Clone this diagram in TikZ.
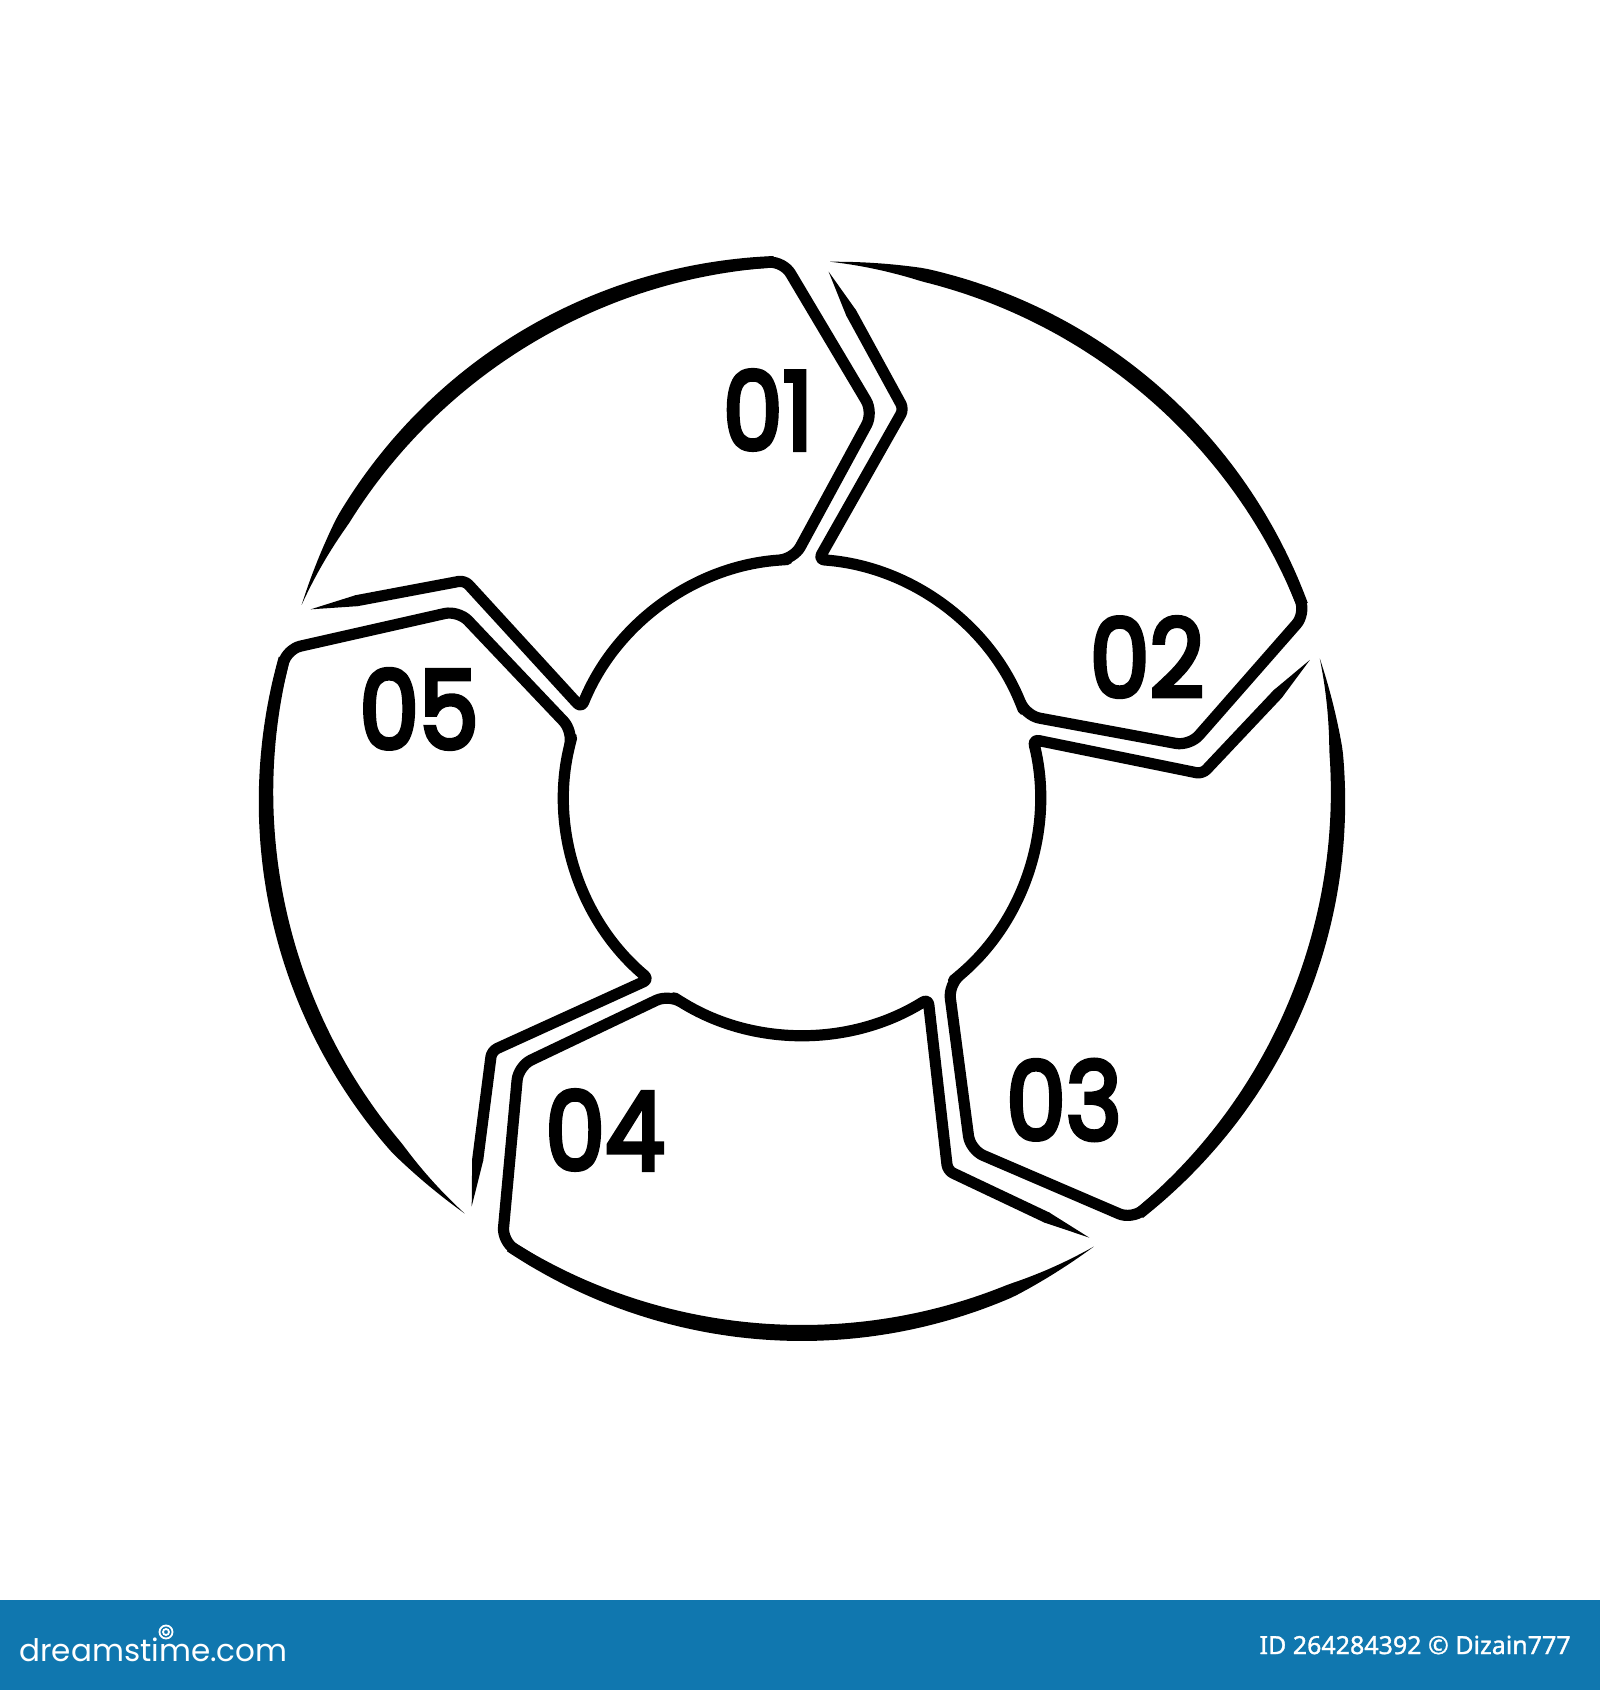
\documentclass[tikz,border=0pt]{standalone}
\usepackage{fontspec}
\setmainfont{Poppins}
\newfontfamily\digfont{Poppins}[FakeBold=4.5]
\newfontfamily\creditfont{Noto Sans}[FakeBold=1.2]
\usetikzlibrary{calc}
\definecolor{footblue}{RGB}{16,119,175}
\tikzset{
  segline/.style={line width=5.6pt, line join=round, line cap=round},
  numlabel/.style={font=\digfont\fontsize{54}{54}\selectfont, inner sep=0pt, xscale=0.88},
  declare function={hw(\t,\a,\b)=(5.6+2.4*sin(180*((\t-\a)/(\b-\a))))*min(1,(1-(\t-\a)/(\b-\a))/0.15);}
}
\begin{document}
\begin{tikzpicture}[x=0.5pt,y=0.5pt]
\useasboundingbox (0,0) rectangle (1600,1690);
\fill[white] (0,0) rectangle (1600,1690);
\coordinate (C) at (802,893);
\begin{scope}[shift={(C)}]
\foreach \L/\lab in {92/01, 20/02, -52/03, -124/04, -196/05} {
  \pgfmathsetmacro\P{\L+72}
  \pgfmathsetmacro\Pb{\P-5}
  \coordinate (no\lab) at ({\P-4.9}:526);
  \coordinate (np\lab) at ({\P-16.7}:401);
  \coordinate (ni\lab) at ({\P-6}:238);
  \coordinate (ci\lab) at (\L:238);
  \coordinate (tp\lab) at ({\L-12.5}:391);
  \coordinate (co\lab) at (\L:536);
  \coordinate (ce\lab) at ({\L+4}:536);
  \coordinate (q\lab) at ($(no\lab)!0.3!(np\lab)$);
  % tapered start of the notch line
  \fill (no\lab) -- ($(q\lab)!2.8pt!90:(no\lab)$) -- ($(q\lab)!2.8pt!-90:(no\lab)$) -- cycle;
  % main outline: notch, inner arc, chevron
  \draw[segline, rounded corners=3pt] (q\lab) -- (np\lab) -- (ni\lab)
     arc[start angle={\P-6}, end angle={\L+3}, radius=238]
     [rounded corners=7pt] -- (ci\lab) -- (tp\lab) -- (co\lab) -- (ce\lab);
  % brush-like outer arc
  \fill plot[domain={\L+1}:{\Pb}, samples=90, variable=\t] (\t:{536+hw(\t,\L,\Pb)})
     -- plot[domain={\Pb}:{\L+1}, samples=90, variable=\t] (\t:{536-hw(\t,\L,\Pb)}) -- cycle;
}
\end{scope}
\node[numlabel] (l01) at (768,1280) {01};
\node[numlabel] (l02) at (1147,1033) {02};
\node[numlabel] (l03) at (1064,590) {03};
\node[numlabel] (l04) at (605,560) {04};
\node[numlabel] (l05) at (419,981) {05};
% footer bar
\fill[footblue] (0,0) rectangle (1600,90);
\node[white, anchor=west, inner sep=0pt, font=\fontsize{15.5}{15.5}\selectfont] (logo) at (19,40) {dreamstime.com};
\draw[white, line width=0.9pt] (166,58) circle (6.5) (166,58) circle (3);
\node[white, anchor=east, inner sep=0pt, font=\creditfont\fontsize{12.5}{12.5}\selectfont] (credit) at (1571,45) {ID 264284392 © Dizain777};
\end{tikzpicture}
\end{document}
